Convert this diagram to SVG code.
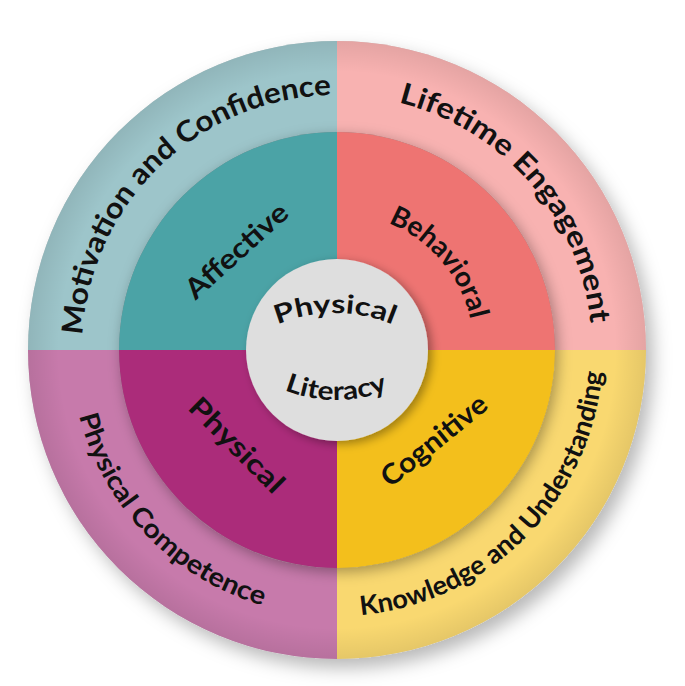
<svg xmlns="http://www.w3.org/2000/svg" xmlns:xlink="http://www.w3.org/1999/xlink" width="685" height="686" viewBox="0 0 685 686">
  <style>
    .lbl { font-family: "Lato", "Liberation Sans", sans-serif; font-weight: 700; fill: #111111; }
    .outer { font-size: 29px; }
    .outerB { font-size: 26.5px; }
    .inner { font-size: 28px; }
    .core { font-size: 26px; }
  </style>
  <defs>
    <filter id="shOuter" x="-15%" y="-15%" width="135%" height="135%">
      <feDropShadow dx="7" dy="9" stdDeviation="9" flood-color="#000" flood-opacity="0.28"/>
    </filter>
    <filter id="shInner" x="-20%" y="-20%" width="140%" height="140%">
      <feDropShadow dx="3" dy="4" stdDeviation="7" flood-color="#000" flood-opacity="0.33"/>
    </filter>
    <filter id="shCore" x="-30%" y="-30%" width="160%" height="160%">
      <feDropShadow dx="4" dy="3" stdDeviation="5" flood-color="#000" flood-opacity="0.35"/>
    </filter>
    <radialGradient id="rim" cx="337" cy="350" r="309" gradientUnits="userSpaceOnUse">
      <stop offset="0.9" stop-color="#000" stop-opacity="0"/>
      <stop offset="1" stop-color="#000" stop-opacity="0.08"/>
    </radialGradient>
    <path id="pMot" d="M104.1,453.7 A255,255 0 0 1 448.8,120.8"/>
    <path id="pLife" d="M245.6,111.9 A255,255 0 0 1 560.0,473.6"/>
    <path id="pComp" d="M97.9,233.4 A266,266 0 0 0 445.2,593.0"/>
    <path id="pKnow" d="M225.4,591.5 A266,266 0 0 0 577.7,236.7"/>
    <path id="pBeh" d="M289,221.7 A137,137 0 0 1 456.2,417.5"/>
    <path id="pPhys" d="M220.1,366.6 A150,150 0 0 1 449.9,366.6"/>
    <path id="pLit" d="M228.8,350 A140,140 0 0 0 443.2,350"/>
  </defs>

  <rect width="685" height="686" fill="#ffffff"/>

  <g id="outer-ring">
    <circle cx="337" cy="350" r="309" fill="#cccccc" filter="url(#shOuter)"/>
    <g id="motivation-and-confidence">
      <path d="M337,350 L28,350 A309,309 0 0 1 337,41 Z" fill="#9dc5ca"/>
    </g>
    <g id="lifetime-engagement">
      <path d="M337,350 L337,41 A309,309 0 0 1 646,350 Z" fill="#f8b2b1"/>
    </g>
    <g id="knowledge-and-understanding">
      <path d="M337,350 L646,350 A309,309 0 0 1 337,659 Z" fill="#f9d870"/>
    </g>
    <g id="physical-competence">
      <path d="M337,350 L337,659 A309,309 0 0 1 28,350 Z" fill="#c77aab"/>
    </g>
    <circle cx="337" cy="350" r="309" fill="url(#rim)"/>
  </g>

  <g id="inner-ring">
    <circle cx="337" cy="350" r="218" fill="#888888" filter="url(#shInner)"/>
    <g id="affective">
      <path d="M337,350 L119,350 A218,218 0 0 1 337,132 Z" fill="#4ba3a6"/>
    </g>
    <g id="behavioral">
      <path d="M337,350 L337,132 A218,218 0 0 1 555,350 Z" fill="#ee7472"/>
    </g>
    <g id="cognitive">
      <path d="M337,350 L555,350 A218,218 0 0 1 337,568 Z" fill="#f3bf1c"/>
    </g>
    <g id="physical">
      <path d="M337,350 L337,568 A218,218 0 0 1 119,350 Z" fill="#ab2c7a"/>
    </g>
  </g>

  <g id="physical-literacy">
    <circle cx="337" cy="350" r="91" fill="#dedede" filter="url(#shCore)"/>
  </g>

  <g id="connectors"/>

  <g id="labels">
    <text class="lbl outer"><textPath href="#pMot" xlink:href="#pMot" startOffset="50%" text-anchor="middle" textLength="380" lengthAdjust="spacingAndGlyphs">Motivation and Confidence</textPath></text>
    <text class="lbl outer"><textPath href="#pLife" xlink:href="#pLife" startOffset="50%" text-anchor="middle" textLength="312" lengthAdjust="spacingAndGlyphs">Lifetime Engagement</textPath></text>
    <text class="lbl outerB"><textPath href="#pComp" xlink:href="#pComp" startOffset="50%" text-anchor="middle" textLength="276" lengthAdjust="spacingAndGlyphs">Physical Competence</textPath></text>
    <text class="lbl outerB"><textPath href="#pKnow" xlink:href="#pKnow" startOffset="50%" text-anchor="middle" textLength="372" lengthAdjust="spacingAndGlyphs">Knowledge and Understanding</textPath></text>

    <text class="lbl inner" x="0" y="0" text-anchor="middle" textLength="128" lengthAdjust="spacingAndGlyphs" transform="translate(243,258) rotate(-42)">Affective</text>
    <text class="lbl inner"><textPath href="#pBeh" xlink:href="#pBeh" startOffset="50%" text-anchor="middle" textLength="132" lengthAdjust="spacingAndGlyphs">Behavioral</textPath></text>
    <text class="lbl inner" x="0" y="0" text-anchor="middle" textLength="122" lengthAdjust="spacingAndGlyphs" transform="translate(230,452) rotate(45)">Physical</text>
    <text class="lbl inner" x="0" y="0" text-anchor="middle" textLength="128" lengthAdjust="spacingAndGlyphs" transform="translate(440,448) rotate(-39)">Cognitive</text>

    <text class="lbl core"><textPath href="#pPhys" xlink:href="#pPhys" startOffset="50%" text-anchor="middle" textLength="118" lengthAdjust="spacingAndGlyphs">Physical</textPath></text>
    <text class="lbl core"><textPath href="#pLit" xlink:href="#pLit" startOffset="50%" text-anchor="middle" textLength="106" lengthAdjust="spacingAndGlyphs">Literacy</textPath></text>
  </g>
</svg>
